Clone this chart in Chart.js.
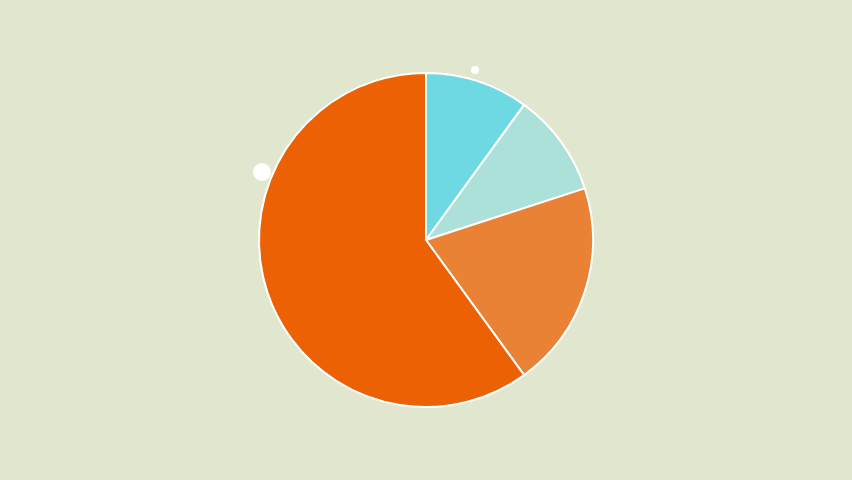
<!DOCTYPE html>
<html>
<head>
<meta charset="utf-8">
<script src="https://cdn.jsdelivr.net/npm/chart.js@4"></script>
<style>
    html, body { margin: 0; padding: 0; background: #E1E6CF; }
    #wrap { position: relative; width: 852px; height: 480px; }
    #wrap canvas { position: absolute; left: 0; top: 0; }
</style>
</head>
<body>
<div id="wrap">
    <canvas id="pieChart" width="852" height="480"></canvas>
    <canvas id="dotsChart" width="852" height="480"></canvas>
</div>
<script>
// Slice data, clockwise from 12 o'clock
const labels = ['A', 'B', 'C', 'D'];
const values = [10, 10, 20, 60];
const sliceColors = ['#6FD9E3', '#ACE1D9', '#E98235', '#EC6103'];

// Decorative white dots (x, y in a 0-852 / 0-480 grid, r in px)
const dotX = [262, 475];
const dotY = [172, 70];
const dotR = [9, 4];

Chart.defaults.animation = false;

new Chart(document.getElementById('pieChart'), {
    type: 'pie',
    data: {
        labels: labels,
        datasets: [{
            data: values,
            backgroundColor: sliceColors,
            borderColor: '#FFFFFF',
            borderWidth: 2,
            radius: 167
        }]
    },
    options: {
        responsive: false,
        plugins: {
            legend: { display: false },
            tooltip: { enabled: false }
        }
    }
});

new Chart(document.getElementById('dotsChart'), {
    type: 'bubble',
    data: {
        datasets: [{
            data: dotX.map((x, i) => ({ x: x, y: dotY[i], r: dotR[i] })),
            backgroundColor: '#FFFFFF',
            borderWidth: 0
        }]
    },
    options: {
        responsive: false,
        layout: { padding: 0, autoPadding: false },
        plugins: {
            legend: { display: false },
            tooltip: { enabled: false }
        },
        scales: {
            x: { type: 'linear', min: 0, max: 852, display: false },
            y: { type: 'linear', min: 0, max: 480, reverse: true, display: false }
        }
    }
});
</script>
</body>
</html>
